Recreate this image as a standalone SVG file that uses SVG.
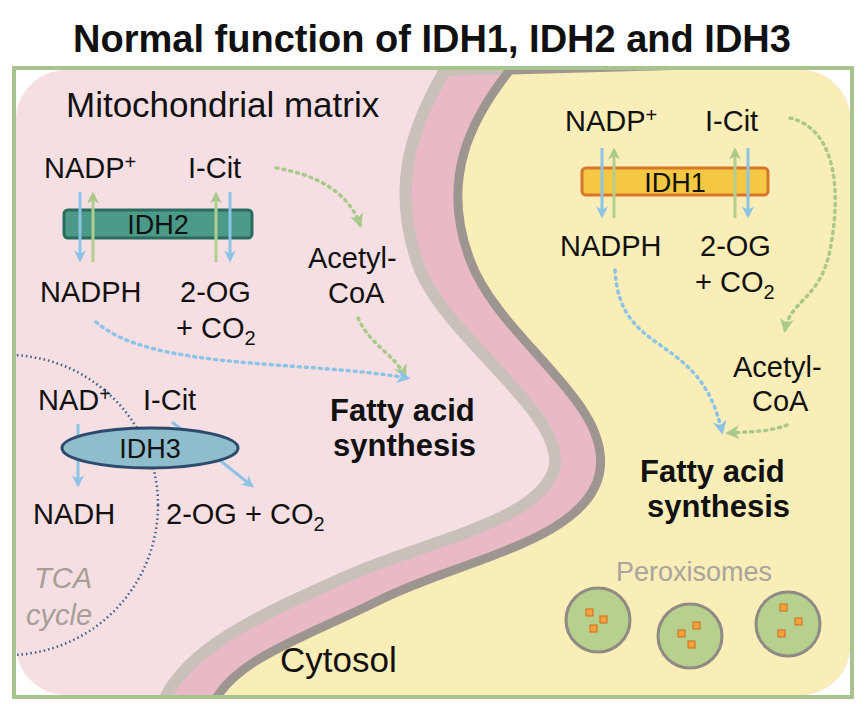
<svg xmlns="http://www.w3.org/2000/svg" width="865" height="704" viewBox="0 0 865 704">
<style>
text{font-family:"Liberation Sans",Arial,sans-serif;fill:#111;font-size:29px}
.b{font-weight:bold;font-size:31px}
.s{font-size:20px}
.bl{stroke:#8cc3e6;stroke-width:3;fill:none;marker-end:url(#ab)}
.gr{stroke:#b2cf8e;stroke-width:3;fill:none;marker-end:url(#ag)}
.bd{stroke:#8cc3e6;stroke-width:3.5;fill:none;stroke-dasharray:2 5;stroke-linecap:round;marker-end:url(#ab)}
.gd{stroke:#a9c98a;stroke-width:3.5;fill:none;stroke-dasharray:2 5;stroke-linecap:round;marker-end:url(#ag)}
.sq{fill:#f2a43a;stroke:#d2691e;stroke-width:1}
.px{fill:#b8d08e;stroke:#8f8a84;stroke-width:3}
</style>
<defs>
<marker id="ab" viewBox="0 0 10 10" refX="8" refY="5" markerWidth="4" markerHeight="4" orient="auto"><path d="M0 0 10 5 0 10 3 5Z" fill="#8cc3e6"/></marker>
<marker id="ag" viewBox="0 0 10 10" refX="8" refY="5" markerWidth="4" markerHeight="4" orient="auto"><path d="M0 0 10 5 0 10 3 5Z" fill="#a9c98a"/></marker>
<clipPath id="c"><rect x="16" y="70" width="834" height="625" rx="50"/></clipPath>
</defs>
<rect width="865" height="704" fill="#fff"/>
<text x="432" y="52" text-anchor="middle" style="font-size:38px;font-weight:bold">Normal function of IDH1, IDH2 and IDH3</text>
<g id="compartments" clip-path="url(#c)">
<rect x="0" y="60" width="865" height="650" fill="#f6dfe3"/>
<path d="M445 70 C410 130 390 190 420 270 C450 340 560 410 555 465 C545 520 430 540 350 575 C260 615 180 650 160 710 L870 710 L870 60 Z" fill="#e9bac6" stroke="#c9c1b9" stroke-width="12"/>
<path d="M510 70 C470 120 440 180 470 260 C500 340 610 400 600 470 C590 540 460 560 380 600 C300 640 230 660 210 710 L870 710 L870 60 Z" fill="#f9edb8" stroke="#9d9590" stroke-width="9"/>
<circle cx="8" cy="505" r="150" fill="none" stroke="#3d5e82" stroke-width="2.5" stroke-dasharray="1.5 3"/>
</g>
<rect x="14" y="68" width="838" height="629" fill="none" stroke="#a9c38e" stroke-width="4"/>
<text x="66" y="117" style="font-size:35px">Mitochondrial matrix</text>
<text x="280" y="672" style="font-size:35px">Cytosol</text>
<text x="34" y="588" style="font-style:italic;fill:#a79e96;font-size:29px">TCA</text>
<text x="26" y="625" style="font-style:italic;fill:#a79e96;font-size:29px">cycle</text>
<g id="labels">
<text x="44" y="178">NADP<tspan dy="-9" class="s">+</tspan></text><text x="188" y="178">I-Cit</text>
<text x="40" y="302">NADPH</text><text x="180" y="302">2-OG</text>
<text x="176" y="338">+ CO<tspan dy="7" class="s">2</tspan></text>
<text x="308" y="268">Acetyl-</text><text x="328" y="303">CoA</text>
<text x="330" y="421" class="b">Fatty acid</text><text x="333" y="456" class="b">synthesis</text>
<text x="38" y="410">NAD<tspan dy="-9" class="s">+</tspan></text><text x="143" y="410">I-Cit</text>
<text x="33" y="524">NADH</text><text x="166" y="524">2-OG + CO<tspan dy="7" class="s">2</tspan></text>
<text x="565" y="131">NADP<tspan dy="-9" class="s">+</tspan></text><text x="705" y="131">I-Cit</text>
<text x="560" y="256">NADPH</text><text x="700" y="256">2-OG</text>
<text x="695" y="292">+ CO<tspan dy="7" class="s">2</tspan></text>
<text x="733" y="377">Acetyl-</text><text x="752" y="411">CoA</text>
<text x="640" y="482" class="b">Fatty acid</text><text x="647" y="517" class="b">synthesis</text>
<text x="616" y="581" style="fill:#aaa49c;font-size:27px">Peroxisomes</text>
</g>
<g id="IDH2">
<rect x="64" y="210" width="188" height="28" rx="4" fill="#4b9987" stroke="#2a6c5d" stroke-width="3"/>
<text x="158" y="234" text-anchor="middle" style="font-size:27px">IDH2</text>
</g>
<g id="IDH1">
<rect x="582" y="168" width="186" height="27" rx="4" fill="#f4c842" stroke="#d8762b" stroke-width="3"/>
<text x="675" y="192" text-anchor="middle" style="font-size:27px">IDH1</text>
</g>
<g id="peroxisomes">
<circle class="px" cx="598" cy="620" r="32"/><rect class="sq" x="586" y="609" width="7" height="7"/><rect class="sq" x="600" y="616" width="7" height="7"/><rect class="sq" x="590" y="625" width="7" height="7"/>
<circle class="px" cx="690" cy="636" r="32"/><rect class="sq" x="678" y="630" width="7" height="7"/><rect class="sq" x="693" y="622" width="7" height="7"/><rect class="sq" x="688" y="641" width="7" height="7"/>
<circle class="px" cx="788" cy="624" r="32"/><rect class="sq" x="780" y="604" width="7" height="7"/><rect class="sq" x="795" y="618" width="7" height="7"/><rect class="sq" x="778" y="630" width="7" height="7"/>
</g>
<g id="connectors">
<path class="bl" d="M80 192V260"/><path class="gr" d="M93 262V194"/>
<path class="gr" d="M216 262V194"/><path class="bl" d="M230 192V260"/>
<path class="bl" d="M602 148V216"/><path class="gr" d="M614 218V150"/>
<path class="gr" d="M735 218V150"/><path class="bl" d="M748 148V216"/>
<path class="bl" d="M78 424V485"/><path class="bl" d="M172 422L252 486"/>
<path class="gd" d="M276 168C320 175 350 195 360 225"/>
<path class="gd" d="M358 318C370 345 395 355 405 376"/>
<path class="bd" d="M96 322C150 370 300 360 408 378"/>
<path class="gd" d="M790 118C840 130 840 200 830 250C820 300 790 300 785 330"/>
<path class="gd" d="M787 425C770 432 745 432 728 433"/>
<path class="bd" d="M615 270C620 360 700 330 722 432"/>
</g>
<g id="IDH3">
<ellipse cx="150" cy="448" rx="88" ry="20" fill="#8fbdcc" stroke="#2c4a6b" stroke-width="3"/>
<text x="150" y="458" text-anchor="middle" style="font-size:27px">IDH3</text>
</g>
</svg>
